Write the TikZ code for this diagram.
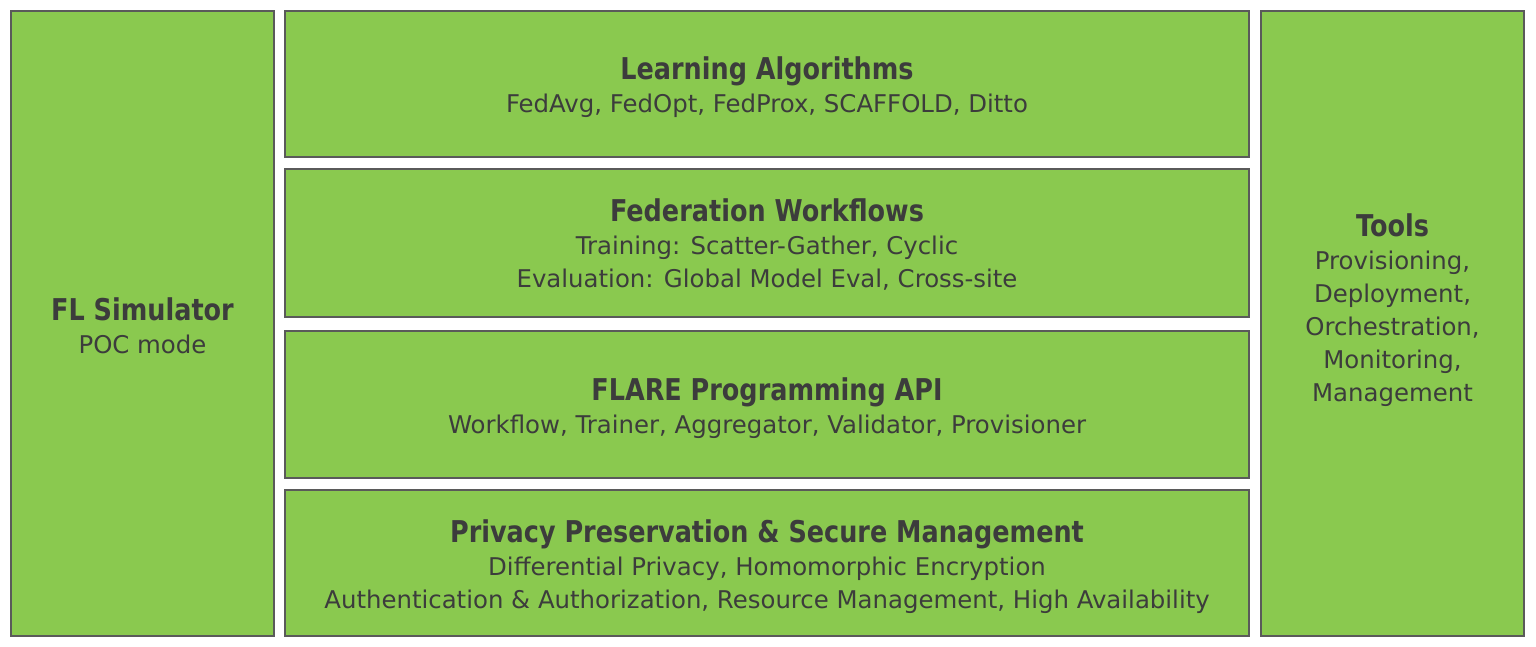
\documentclass[tikz,border=0pt]{standalone}
\usepackage{fontspec}
\setmainfont{DejaVu Sans}[BoldFeatures={FakeStretch=0.85}]
\definecolor{layergreen}{HTML}{8AC94F}
\definecolor{layerline}{HTML}{5A5A5A}
\definecolor{layertext}{HTML}{3C3C3C}
\newcommand{\layertitle}[1]{{\fontsize{15}{17.5}\selectfont\bfseries #1}}
\begin{document}
\begin{tikzpicture}[x=0.5pt,y=-0.5pt,
    layer/.style={draw=layerline,line width=1pt,fill=layergreen,inner sep=0pt},
    layerlabel/.style={text=layertext,align=center,inner sep=0pt,
      font=\fontsize{12.2}{16.5}\selectfont}]
  \useasboundingbox (0,0) rectangle (1536,647);
  \node[layer,minimum width=131.5pt,minimum height=312.5pt] (sim) at (142.5,323.5) {};
  \node[layer,minimum width=131.5pt,minimum height=312.5pt] (tools) at (1392.5,323.5) {};
  \node[layer,minimum width=482pt,minimum height=73pt] (algo) at (767,84) {};
  \node[layer,minimum width=482pt,minimum height=74pt] (flow) at (767,243) {};
  \node[layer,minimum width=482pt,minimum height=73.5pt] (api) at (767,404.5) {};
  \node[layer,minimum width=482pt,minimum height=73pt] (priv) at (767,563) {};

  \node[layerlabel] (simtext) at ([yshift=-1pt]sim.center) {\layertitle{FL Simulator}\\POC mode};
  \node[layerlabel] (toolstext) at ([yshift=6.5pt]tools.center) {\layertitle{Tools}\\Provisioning,\\Deployment,\\Orchestration,\\Monitoring,\\Management};
  \node[layerlabel] (algotext) at ([yshift=-1.8pt]algo.center) {\layertitle{Learning Algorithms}\\FedAvg, FedOpt, FedProx, SCAFFOLD, Ditto};
  \node[layerlabel] (flowtext) at ([yshift=-0.8pt]flow.center) {\layertitle{Federation Workflows}\\Training: Scatter-Gather, Cyclic\\Evaluation: Global Model Eval, Cross-site};
  \node[layerlabel] (apitext) at ([yshift=-1.8pt]api.center) {\layertitle{FLARE Programming API}\\Workflow, Trainer, Aggregator, Validator, Provisioner};
  \node[layerlabel] (privtext) at ([yshift=-1.8pt]priv.center) {\layertitle{Privacy Preservation \& Secure Management}\\Differential Privacy, Homomorphic Encryption\\Authentication \& Authorization, Resource Management, High Availability};
\end{tikzpicture}
\end{document}
